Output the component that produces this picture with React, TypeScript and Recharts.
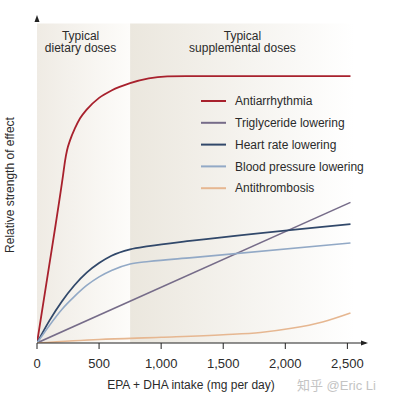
import React from 'react';
import { LineChart, Line, XAxis, YAxis, ReferenceArea, ReferenceDot } from 'recharts';

// ---- Data (x = EPA + DHA intake, mg/day; y = relative strength of effect) ----
const seriesNames = [
  'Antiarrhythmia',
  'Triglyceride lowering',
  'Heart rate lowering',
  'Blood pressure lowering',
  'Antithrombosis',
];

const antiarrhythmia: [number, number][] = [
  [0, 0], [100, 24.7], [150, 37], [210, 52.5], [226, 57], [242, 60.3], [266, 63.4],
  [306, 67.2], [347, 70.3], [400, 73], [500, 76.7], [600, 79], [750, 81.3],
  [900, 82.8], [1050, 83.4], [1200, 83.5], [2525, 83.5],
];
const triglyceride: [number, number][] = [
  [0, 0], [2525, 44],
];
const heartRate: [number, number][] = [
  [0, 0], [100, 7], [200, 13], [300, 18], [400, 22], [500, 25], [600, 27.3],
  [750, 29.3], [900, 30.3], [1250, 32], [2525, 37.2],
];
const bloodPressure: [number, number][] = [
  [0, 0], [100, 5.5], [200, 10.5], [300, 14.5], [400, 18], [500, 20.7], [600, 22.7],
  [750, 24.7], [900, 25.5], [1250, 26.7], [2525, 31.3],
];
const antithrombosis: [number, number][] = [
  [0, 0], [500, 1.1], [1000, 1.8], [1500, 2.6], [1800, 3.3], [2050, 4.6],
  [2300, 6.6], [2525, 9.4],
];

const xTicks = [0, 500, 1000, 1500, 2000, 2500];
const doseBands = [
  { from: 0, to: 750, lines: ['Typical', 'dietary doses'] },
  { from: 750, to: 2560, lines: ['Typical', 'supplemental doses'] },
];

// ---- Styles ----
const colors = ['#a8212d', '#766c89', '#31486a', '#92a9c6', '#e6b791'];
const widths = [1.8, 1.6, 1.8, 1.6, 1.6];
const allSeries = [antiarrhythmia, triglyceride, heartRate, bloodPressure, antithrombosis];

const toRows = (pts: [number, number][]) => pts.map(([x, y]) => ({ x, y }));

const FONT = '"Liberation Sans", Arial, sans-serif';
const TEXT = '#2b2b2b';

function LegendBlock() {
  return (
    <g>
      {seriesNames.map((n, i) => {
        const y = 101 + i * 21.8;
        return (
          <g key={n}>
            <line x1={201} x2={226} y1={y} y2={y} stroke={colors[i]} strokeWidth={2} />
            <text x={235} y={y} dy="0.35em" fontSize={12} fill={TEXT} fontFamily={FONT}>{n}</text>
          </g>
        );
      })}
    </g>
  );
}

export default function App() {
  return (
    <div style={{ position: 'absolute', left: 0, top: 0, width: 393, height: 404, background: '#fff', fontFamily: FONT }}>
      <LineChart width={393} height={404} margin={{ top: 17, right: 27, bottom: 31, left: 37 }}>
        <defs>
          <linearGradient id="bandDiet" x1="0" y1="0" x2="1" y2="0">
            <stop offset="0%" stopColor="#efebe4" />
            <stop offset="100%" stopColor="#fdfcfa" />
          </linearGradient>
          <linearGradient id="bandSupp" x1="0" y1="0" x2="1" y2="0">
            <stop offset="0%" stopColor="#ebe7de" />
            <stop offset="100%" stopColor="#ffffff" />
          </linearGradient>
        </defs>
        <XAxis
          type="number"
          dataKey="x"
          domain={[0, 2650]}
          ticks={xTicks}
          allowDataOverflow
          height={30}
          tickSize={6}
          tickMargin={10}
          tickFormatter={(v: number) => v.toLocaleString('en-US')}
          tick={{ fontSize: 13, fill: TEXT }}
          axisLine={{ stroke: '#222', strokeWidth: 1 }}
          tickLine={{ stroke: '#222', strokeWidth: 1 }}
        />
        <YAxis
          type="number"
          dataKey="y"
          domain={[0, 102]}
          allowDataOverflow
          width={0}
          tick={false}
          tickLine={false}
          axisLine={{ stroke: '#222', strokeWidth: 1 }}
        />
        {doseBands.map((b, i) => (
          <ReferenceArea
            key={i}
            x1={b.from}
            x2={b.to}
            y1={0}
            y2={100}
            fill={i === 0 ? 'url(#bandDiet)' : 'url(#bandSupp)'}
            fillOpacity={1}
            stroke="none"
            ifOverflow="visible"
            label={(props: any) => {
              const vb = props.viewBox || {};
              const cx = vb.x + vb.width / 2 - (i === 0 ? 3 : 0);
              return (
                <g>
                  <text textAnchor="middle" fontSize={12} fill={TEXT} fontFamily={FONT}>
                    <tspan x={cx} y={vb.y + 16.5}>{b.lines[0]}</tspan>
                    <tspan x={cx} y={vb.y + 29}>{b.lines[1]}</tspan>
                  </text>
                  {i === doseBands.length - 1 ? <LegendBlock /> : null}
                </g>
              );
            }}
          />
        ))}
        {allSeries.map((s, i) => (
          <Line
            key={seriesNames[i]}
            data={toRows(s)}
            dataKey="y"
            name={seriesNames[i]}
            type="monotone"
            stroke={colors[i]}
            strokeWidth={widths[i]}
            dot={false}
            activeDot={false}
            isAnimationActive={false}
          />
        ))}
        <ReferenceDot
          x={0}
          y={102}
          ifOverflow="visible"
          shape={(p: any) => (
            <path d={`M${p.cx},${p.cy - 2} L${p.cx - 2.5},${p.cy + 5} L${p.cx + 2.5},${p.cy + 5} Z`} fill="#222" />
          )}
        />
        <ReferenceDot
          x={2650}
          y={0}
          ifOverflow="visible"
          shape={(p: any) => (
            <path d={`M${p.cx + 2},${p.cy} L${p.cx - 5},${p.cy - 2.5} L${p.cx - 5},${p.cy + 2.5} Z`} fill="#222" />
          )}
        />
        <text x={14} y={185} transform="rotate(-90 14 185)" textAnchor="middle" fontSize={12} fill={TEXT} fontFamily={FONT}>
          Relative strength of effect
        </text>
        <text x={191} y={389} textAnchor="middle" fontSize={12} fill={TEXT} fontFamily={FONT}>
          EPA + DHA intake (mg per day)
        </text>
        <text x={297} y={390} fontSize={13} fill="#c4c4c4" fontFamily={'"Liberation Sans", "Noto Sans CJK SC", sans-serif'}>
          知乎 @Eric Li
        </text>
      </LineChart>
    </div>
  );
}
